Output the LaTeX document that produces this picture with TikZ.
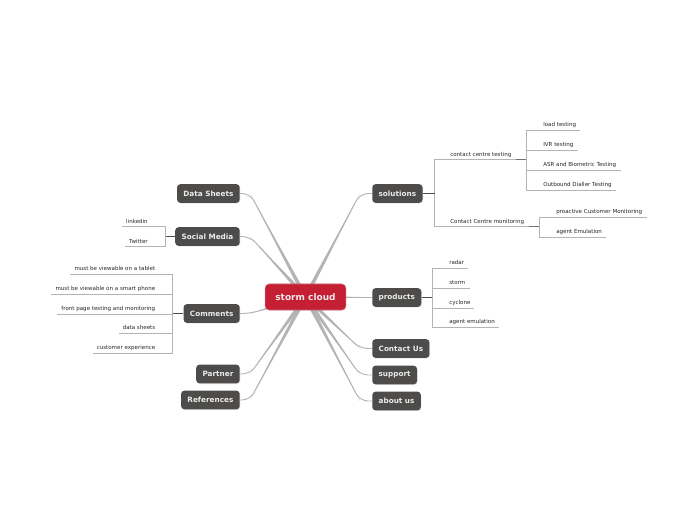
\documentclass[tikz,border=0pt]{standalone}
\usepackage{fontspec}
\setmainfont{DejaVu Sans}
\usetikzlibrary{calc,shadows,backgrounds}
\definecolor{hubred}{HTML}{C41F33}
\definecolor{budgray}{HTML}{4D4C4B}
\definecolor{limbgray}{HTML}{B4B4B4}
\definecolor{twiggray}{HTML}{B4B4B4}
\tikzset{
  hub/.style={fill=hubred,draw=hubred!70!white,line width=.4pt,rounded corners=3pt,text=white!92!black,font=\fontsize{6.75}{7}\bfseries\selectfont,minimum width=60.5pt,minimum height=19.5pt,inner sep=0pt,drop shadow={opacity=.2,shadow xshift=.4pt,shadow yshift=-.6pt}},
  bud/.style={fill=budgray,rounded corners=2.5pt,text=white!92!black,font=\fontsize{5.45}{6}\bfseries\selectfont,minimum height=14pt,inner ysep=0pt,inner xsep=4.8pt,drop shadow={opacity=.2,shadow xshift=.4pt,shadow yshift=-.6pt}},
  leaf/.style={font=\fontsize{4.15}{5}\selectfont,text=black!85,inner sep=0pt},
  twig/.style={draw=twiggray,line width=.7pt},
  trunk/.style={draw=black!70,line width=.75pt},
  stub/.style={draw=black!55,line width=.9pt},
  limbline/.style={draw=limbgray,line width=.7pt,rounded corners=6pt},
  limbfill/.style={fill=limbgray}
}
\newcommand{\limb}[2]{
  \coordinate (bend) at ($(#1)+(#2,0)$);
  \draw[limbline] (storm.center) -- (bend) -- (#1);
  \fill[limbfill] ($(storm.center)!1.6pt!90:(bend)$) -- (bend) -- ($(storm.center)!1.6pt!-90:(bend)$) -- cycle;
}
\begin{document}
\begin{tikzpicture}[x=.75pt,y=-.75pt]
  \useasboundingbox (0,0) rectangle (697,520);

  \node[hub] (storm) at (305.5,297) {storm cloud};

  % right side
  \node[bud,anchor=west] (solutions) at (372,193.5) {solutions};
  \node[bud,anchor=west] (products) at (372,297.5) {products};
  \node[bud,anchor=west] (contact) at (372,348.5) {Contact Us};
  \node[bud,anchor=west] (support) at (372,375) {support};
  \node[bud,anchor=west] (about) at (372,401) {about us};

  % left side
  \node[bud,anchor=east] (sheets) at (240,193.5) {Data Sheets};
  \node[bud,anchor=east] (social) at (240,236.5) {Social Media};
  \node[bud,anchor=east] (comments) at (240,313.5) {Comments};
  \node[bud,anchor=east] (partner) at (240,374) {Partner};
  \node[bud,anchor=east] (references) at (240,400) {References};

  \begin{pgfonlayer}{background}
    \limb{solutions.west}{-12}
    \limb{products.west}{-8}
    \limb{contact.west}{-12}
    \limb{support.west}{-12}
    \limb{about.west}{-12}
    \limb{sheets.east}{10}
    \limb{social.east}{10}
    \limb{comments.east}{10}
    \limb{partner.east}{10}
    \limb{references.east}{10}
  \end{pgfonlayer}

  % solutions
  \coordinate (solbus) at (434.5,193.5);
  \coordinate (testbus) at (526,159.5);
  \coordinate (testbend) at (516,159.5);
  \coordinate (monbus) at (539,226.5);
  \coordinate (monbend) at (529,226.5);
  \node[leaf,anchor=west] (testing) at (450,154.5) {contact centre testing};
  \node[leaf,anchor=west] (monitoring) at (450,221.5) {Contact Centre monitoring};
  \draw[twig] (solbus) |- (testbus);
  \draw[twig] (solbus) |- (monbus);
  \draw[trunk] (solutions.east) -- (solbus);
  \draw[stub] (testbend) -- (testbus);
  \draw[stub] (monbend) -- (monbus);
  \foreach \nm/\txt/\yy/\xend in {load/load testing/124.5/580,ivr/IVR testing/144.5/578,asr/ASR and Biometric Testing/164.5/621,dialler/Outbound Dialler Testing/184.5/616}{
    \node[leaf,anchor=west] (\nm) at (543,\yy) {\txt};
    \coordinate (\nm end) at (\xend,\yy+5.5);
    \draw[twig] (testbus) |- (\nm end);
  }
  \foreach \nm/\txt/\yy/\xend in {proactive/proactive Customer Monitoring/211.5/647,emulation/agent Emulation/231.5/606}{
    \node[leaf,anchor=west] (\nm) at (556,\yy) {\txt};
    \coordinate (\nm end) at (\xend,\yy+5.5);
    \draw[twig] (monbus) |- (\nm end);
  }

  % products
  \coordinate (prodbus) at (432.5,297.5);
  \draw[trunk] (products.east) -- (prodbus);
  \foreach \nm/\txt/\yy/\xend in {radar/radar/262.5/468,stormleaf/storm/282.5/470,cyclone/cyclone/302.5/474,agentem/agent emulation/321.5/499}{
    \node[leaf,anchor=west] (\nm) at (449,\yy) {\txt};
    \coordinate (\nm end) at (\xend,\yy+5.5);
    \draw[twig] (prodbus) |- (\nm end);
  }

  % social media
  \coordinate (socbus) at (165,236.5);
  \draw[trunk] (social.west) -- (socbus);
  \foreach \nm/\txt/\yy/\xend in {linkedin/linkedin/221.5/122,twitter/Twitter/241.5/125}{
    \node[leaf,anchor=east] (\nm) at (148,\yy) {\txt};
    \coordinate (\nm end) at (\xend,\yy+5);
    \draw[twig] (socbus) |- (\nm end);
  }

  % comments
  \coordinate (combus) at (172.5,313.5);
  \draw[trunk] (comments.west) -- (combus);
  \foreach \nm/\txt/\yy/\xend in {tablet/must be viewable on a tablet/268.5/70,phone/must be viewable on a smart phone/288.5/50.5,front/front page testing and monitoring/308.5/56.5,datas/data sheets/327.5/119,customer/customer experience/347.5/93}{
    \node[leaf,anchor=east] (\nm) at (155.5,\yy) {\txt};
    \coordinate (\nm end) at (\xend,\yy+5.5);
    \draw[twig] (combus) |- (\nm end);
  }
\end{tikzpicture}
\end{document}
